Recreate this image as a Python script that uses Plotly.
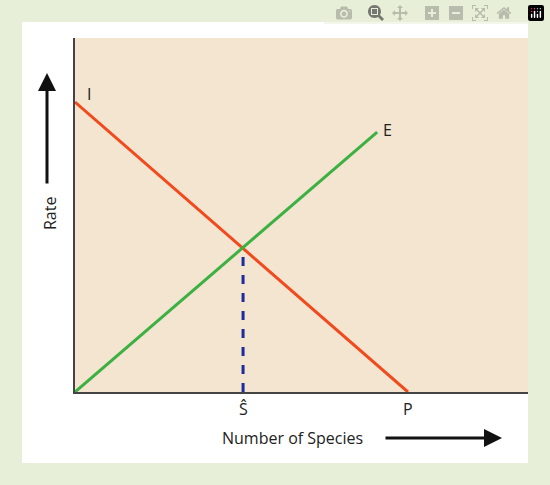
import plotly.graph_objects as go

# data (x: number of species, y: rate), arbitrary units
immig_x = [0, 73.5]
immig_y = [81.9, 0]
extinct_x = [0, 66.7]
extinct_y = [0, 73.4]
s_hat = 37.1
s_hat_rate = 40.7
line_labels = ["I", "E"]

W, H = 550, 485
L, R, T, B = 75, 22, 38, 93
pw, ph = W - L - R, H - T - B
def px(x): return (x - L) / pw
def py(y): return (H - B - y) / ph

fig = go.Figure()
fig.add_trace(go.Scatter(x=immig_x, y=immig_y, mode="lines",
                         line=dict(color="#f04a1e", width=3), showlegend=False))
fig.add_trace(go.Scatter(x=extinct_x, y=extinct_y, mode="lines",
                         line=dict(color="#3cb043", width=3), showlegend=False))
fig.add_trace(go.Scatter(x=[s_hat, s_hat], y=[0, s_hat_rate], mode="lines",
                         line=dict(color="#1f2a9c", width=3, dash="dash"), showlegend=False))

shapes = [
    dict(type="rect", xref="paper", yref="paper", x0=px(22), x1=px(528), y0=py(463), y1=py(22),
         fillcolor="white", line_width=0, layer="below"),
    dict(type="rect", xref="paper", yref="paper", x0=0, x1=1, y0=0, y1=1,
         fillcolor="#f3e5cf", line_width=0, layer="below"),
]
txt = dict(size=16, color="#222")
ann = [
    dict(x=immig_x[0], y=immig_y[0], text=line_labels[0], showarrow=False, xshift=14, yshift=8, font=txt),
    dict(x=extinct_x[1], y=extinct_y[1], text=line_labels[1], showarrow=False, xshift=10, yshift=2, font=txt),
    dict(x=s_hat, y=0, text="Ŝ", showarrow=False, yshift=-17, font=txt),
    dict(x=immig_x[1], y=0, text="P", showarrow=False, yshift=-17, font=txt),
    dict(xref="paper", yref="paper", x=px(50), y=py(214), text="Rate", textangle=-90,
         xanchor="center", yanchor="middle", showarrow=False, font=txt),
    dict(xref="paper", yref="paper", x=px(47), y=py(73), ax=0, ay=112, text="",
         showarrow=True, arrowhead=2, arrowsize=1.2, arrowwidth=3, arrowcolor="#111"),
    dict(xref="paper", yref="paper", x=px(292), y=py(438), text="Number of Species",
         xanchor="center", yanchor="middle", showarrow=False, font=txt),
    dict(xref="paper", yref="paper", x=px(502), y=py(438), ax=-118, ay=0, text="",
         showarrow=True, arrowhead=2, arrowsize=1.2, arrowwidth=3, arrowcolor="#111"),
]
fig.update_layout(
    width=W, height=H, margin=dict(l=L, r=R, t=T, b=B),
    paper_bgcolor="#e8efd8", plot_bgcolor="rgba(0,0,0,0)",
    shapes=shapes, annotations=ann,
    font=dict(family="Open Sans"),
    xaxis=dict(range=[0, 100], showgrid=False, zeroline=False, showticklabels=False,
               showline=True, linecolor="#444", linewidth=1.5, ticks=""),
    yaxis=dict(range=[0, 100], showgrid=False, zeroline=False, showticklabels=False,
               showline=True, linecolor="#444", linewidth=1.5, ticks=""),
)
fig.write_html("out.html", post_script="document.body.style.margin='0';")
